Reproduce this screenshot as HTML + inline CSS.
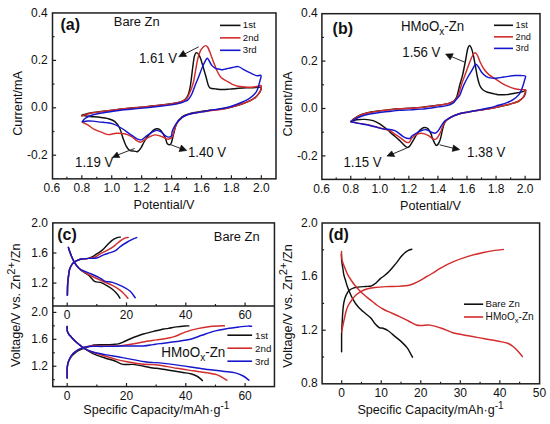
<!DOCTYPE html>
<html><head><meta charset="utf-8"><title>Figure</title>
<style>
html,body{margin:0;padding:0;background:#fff;}
body{width:550px;height:424px;overflow:hidden;}
svg{display:block;font-family:"Liberation Sans", sans-serif;}
</style></head>
<body>
<svg width="550" height="424" viewBox="0 0 550 424">
<rect x="0" y="0" width="550" height="424" fill="#fff"/>
<path d="M81.9 115.1 C83.5 114.72 87.15 113.53 91.5 112.8 C95.85 112.07 102.5 111.38 108 110.7 C113.5 110.02 119.17 109.27 124.5 108.7 C129.83 108.13 135.77 107.72 140 107.3 C144.23 106.88 146.6 106.55 149.9 106.2 C153.2 105.85 156.5 105.57 159.8 105.2 C163.1 104.83 166.95 104.38 169.7 104 C172.45 103.62 174.37 103.3 176.3 102.9 C178.23 102.5 179.92 102.12 181.3 101.6 C182.68 101.08 183.65 100.53 184.6 99.8 C185.55 99.07 186.3 98.33 187 97.2 C187.7 96.07 188.2 95.12 188.8 93 C189.4 90.88 189.95 88.75 190.6 84.5 C191.25 80.25 192.07 72.22 192.7 67.5 C193.33 62.78 193.8 58.67 194.4 56.2 C195 53.73 195.63 53.05 196.3 52.7 C196.97 52.35 197.7 53.17 198.4 54.1 C199.1 55.03 199.68 56.07 200.5 58.3 C201.32 60.53 202.35 64.3 203.3 67.5 C204.25 70.7 205.37 74.55 206.2 77.5 C207.03 80.45 207.6 83.43 208.3 85.2 C209 86.97 209.22 87.48 210.4 88.1 C211.58 88.72 213.38 88.67 215.4 88.9 C217.42 89.13 220.15 89.47 222.5 89.5 C224.85 89.53 227.15 89.27 229.5 89.1 C231.85 88.93 234.43 88.68 236.6 88.5 C238.77 88.32 240.13 88.13 242.5 88 C244.87 87.87 248.05 87.83 250.8 87.7 C253.55 87.57 257.3 87.27 259 87.2 C260.7 87.13 260.63 87 261 87.3 C261.37 87.6 261.28 88.38 261.2 89 C261.12 89.62 260.87 90.28 260.5 91 C260.13 91.72 259.8 92.28 259 93.3 C258.2 94.32 257.07 95.92 255.7 97.1 C254.33 98.28 253 99.3 250.8 100.4 C248.6 101.5 245.25 102.73 242.5 103.7 C239.75 104.67 237.05 105.45 234.3 106.2 C231.55 106.95 228.72 107.67 226 108.2 C223.28 108.73 220.67 109.05 218 109.4 C215.33 109.75 212.67 109.98 210 110.3 C207.33 110.62 204.25 111 202 111.3 C199.75 111.6 198.32 111.78 196.5 112.1 C194.68 112.42 192.92 112.73 191.1 113.2 C189.28 113.67 187.03 114.33 185.6 114.9 C184.17 115.47 183.4 115.97 182.5 116.6 C181.6 117.23 180.98 117.9 180.2 118.7 C179.42 119.5 178.5 120.35 177.8 121.4 C177.1 122.45 176.53 123.57 176 125 C175.47 126.43 175.07 128.23 174.6 130 C174.13 131.77 173.75 133.42 173.2 135.6 C172.65 137.78 171.88 141.57 171.3 143.1 C170.72 144.63 170.38 144.7 169.7 144.8 C169.02 144.9 167.88 144.72 167.2 143.7 C166.52 142.68 166.28 140.35 165.6 138.7 C164.92 137.05 164.07 135.32 163.1 133.8 C162.13 132.28 160.9 130.43 159.8 129.6 C158.7 128.77 157.6 128.67 156.5 128.8 C155.4 128.93 154.3 129.57 153.2 130.4 C152.1 131.23 151 132.55 149.9 133.8 C148.8 135.05 147.62 136.45 146.6 137.9 C145.58 139.35 144.73 140.85 143.8 142.5 C142.87 144.15 142.02 146.3 141 147.8 C139.98 149.3 138.8 150.95 137.7 151.5 C136.6 152.05 135.77 151.3 134.4 151.1 C133.03 150.9 130.87 151.12 129.5 150.3 C128.13 149.48 127.3 148.27 126.2 146.2 C125.1 144.13 124 140.93 122.9 137.9 C121.8 134.87 120.98 130.75 119.6 128 C118.22 125.25 116.53 122.97 114.6 121.4 C112.67 119.83 110.47 119.28 108 118.6 C105.53 117.92 102.78 117.65 99.8 117.3 C96.82 116.95 92.73 116.78 90.1 116.5 C87.47 116.22 85.38 115.82 84 115.6 C82.62 115.38 82.17 115.27 81.8 115.2" fill="none" stroke="#101010" stroke-width="1.45" stroke-linejoin="round" stroke-linecap="round"/>
<path d="M81.8 116 C83.42 115.5 87.13 113.87 91.5 113 C95.87 112.13 102.5 111.5 108 110.8 C113.5 110.1 119.17 109.37 124.5 108.8 C129.83 108.23 134.12 107.98 140 107.4 C145.88 106.82 154.85 105.85 159.8 105.3 C164.75 104.75 166.95 104.48 169.7 104.1 C172.45 103.72 174.37 103.4 176.3 103 C178.23 102.6 179.92 102.17 181.3 101.7 C182.68 101.23 183.57 100.9 184.6 100.2 C185.63 99.5 186.63 98.78 187.5 97.5 C188.37 96.22 189.08 94.17 189.8 92.5 C190.52 90.83 191.17 89.33 191.8 87.5 C192.43 85.67 192.97 84.35 193.6 81.5 C194.23 78.65 194.92 74.13 195.6 70.4 C196.28 66.67 196.88 62.4 197.7 59.1 C198.52 55.8 199.57 52.62 200.5 50.6 C201.43 48.58 202.47 47.83 203.3 47 C204.13 46.17 204.78 45.6 205.5 45.6 C206.22 45.6 206.78 45.7 207.6 47 C208.42 48.3 209.33 50.68 210.4 53.4 C211.47 56.12 212.82 60.23 214 63.3 C215.18 66.37 216.33 69.43 217.5 71.8 C218.67 74.17 219.5 75.97 221 77.5 C222.5 79.03 224.6 79.87 226.5 81 C228.4 82.13 230.48 83.42 232.4 84.3 C234.32 85.18 235.48 85.82 238 86.3 C240.52 86.78 244.55 87.13 247.5 87.2 C250.45 87.27 253.5 86.98 255.7 86.7 C257.9 86.42 259.77 85.42 260.7 85.5 C261.63 85.58 261.3 86.48 261.3 87.2 C261.3 87.92 261.08 88.8 260.7 89.8 C260.32 90.8 259.83 91.98 259 93.2 C258.17 94.42 257.07 95.9 255.7 97.1 C254.33 98.3 253 99.3 250.8 100.4 C248.6 101.5 245.25 102.73 242.5 103.7 C239.75 104.67 237.05 105.38 234.3 106.2 C231.55 107.02 228.72 108 226 108.6 C223.28 109.2 220.67 109.43 218 109.8 C215.33 110.17 212.67 110.45 210 110.8 C207.33 111.15 204.25 111.58 202 111.9 C199.75 112.22 198.32 112.38 196.5 112.7 C194.68 113.02 192.92 113.33 191.1 113.8 C189.28 114.27 187.03 114.93 185.6 115.5 C184.17 116.07 183.4 116.57 182.5 117.2 C181.6 117.83 180.98 118.5 180.2 119.3 C179.42 120.1 178.57 120.85 177.8 122 C177.03 123.15 176.23 124.7 175.6 126.2 C174.97 127.7 174.47 129.45 174 131 C173.53 132.55 173.23 134.35 172.8 135.5 C172.37 136.65 172.18 137.28 171.4 137.9 C170.62 138.52 169.2 139.2 168.1 139.2 C167 139.2 166.18 138.45 164.8 137.9 C163.42 137.35 161.45 136.4 159.8 135.9 C158.15 135.4 156.55 134.78 154.9 134.9 C153.25 135.02 151.55 135.83 149.9 136.6 C148.25 137.37 146.48 138.58 145 139.5 C143.52 140.42 142.22 141.82 141 142.1 C139.78 142.38 138.87 141.8 137.7 141.2 C136.53 140.6 135.1 139.32 134 138.5 C132.9 137.68 132.68 137.08 131.1 136.3 C129.52 135.52 126.97 134.3 124.5 133.8 C122.03 133.3 119.05 133.17 116.3 133.3 C113.55 133.43 110.48 134.8 108 134.6 C105.52 134.4 103.6 132.92 101.4 132.1 C99.2 131.28 97 130.85 94.8 129.7 C92.6 128.55 90.02 126.32 88.2 125.2 C86.38 124.08 84.87 123.53 83.9 123 C82.93 122.47 82.65 122.17 82.4 122" fill="none" stroke="#d22c2c" stroke-width="1.45" stroke-linejoin="round" stroke-linecap="round"/>
<path d="M82.2 121.8 C82.67 121.25 83.68 119.51 85 118.5 C86.32 117.49 87.6 116.61 90.1 115.72 C92.6 114.84 97.02 113.82 100 113.2 C102.98 112.58 103.92 112.57 108 112 C112.08 111.43 119.17 110.4 124.5 109.8 C129.83 109.2 134.12 108.98 140 108.4 C145.88 107.82 154.85 106.85 159.8 106.3 C164.75 105.75 166.95 105.48 169.7 105.1 C172.45 104.72 174.37 104.38 176.3 104 C178.23 103.62 179.92 103.22 181.3 102.8 C182.68 102.38 183.5 101.93 184.6 101.45 C185.7 100.97 186.93 100.73 187.9 99.93 C188.87 99.12 189.63 97.84 190.4 96.6 C191.17 95.36 191.75 94.28 192.5 92.5 C193.25 90.72 193.92 88.4 194.9 85.9 C195.88 83.4 197.23 80.43 198.4 77.5 C199.57 74.57 200.83 70.9 201.9 68.3 C202.97 65.7 203.92 63.57 204.8 61.9 C205.68 60.23 206.5 58.53 207.2 58.3 C207.9 58.07 208.23 59.32 209 60.5 C209.77 61.68 210.73 64.1 211.8 65.4 C212.87 66.7 214.1 67.67 215.4 68.3 C216.7 68.93 218.42 68.97 219.6 69.2 C220.78 69.43 221.32 69.78 222.5 69.7 C223.68 69.62 225.05 69.07 226.7 68.7 C228.35 68.33 230.45 67.85 232.4 67.5 C234.35 67.15 236.43 66.2 238.4 66.6 C240.37 67 242.13 68.8 244.2 69.9 C246.27 71 248.75 72.25 250.8 73.2 C252.85 74.15 254.8 75.2 256.5 75.6 C258.2 76 260.45 74.63 261 75.6 C261.55 76.57 260.4 79.05 259.8 81.4 C259.2 83.75 258.35 87.5 257.4 89.7 C256.45 91.9 255.48 93.1 254.1 94.6 C252.72 96.1 251.03 97.47 249.1 98.7 C247.17 99.93 244.97 100.9 242.5 102 C240.03 103.1 237.05 104.33 234.3 105.3 C231.55 106.27 228.72 107.15 226 107.8 C223.28 108.45 220.67 108.8 218 109.2 C215.33 109.6 212.67 109.75 210 110.2 C207.33 110.65 204.25 111.48 202 111.9 C199.75 112.32 198.32 112.38 196.5 112.7 C194.68 113.02 192.92 113.33 191.1 113.8 C189.28 114.27 187.03 114.93 185.6 115.5 C184.17 116.07 183.4 116.57 182.5 117.2 C181.6 117.83 180.97 118.58 180.2 119.3 C179.43 120.02 178.75 120.48 177.9 121.5 C177.05 122.52 176.03 123.83 175.1 125.4 C174.17 126.97 172.92 129.15 172.3 130.9 C171.68 132.65 172.1 134.87 171.4 135.9 C170.7 136.93 169.2 137.18 168.1 137.1 C167 137.02 165.9 136.23 164.8 135.4 C163.7 134.57 162.88 132.93 161.5 132.1 C160.12 131.27 158.15 130.32 156.5 130.4 C154.85 130.48 153.25 131.68 151.6 132.6 C149.95 133.52 147.98 134.88 146.6 135.9 C145.22 136.92 144.23 138.03 143.3 138.7 C142.37 139.37 141.93 139.82 141 139.9 C140.07 139.98 138.95 139.77 137.7 139.2 C136.45 138.63 134.87 137.4 133.5 136.5 C132.13 135.6 131.55 135.22 129.5 133.8 C127.45 132.38 123.95 129.65 121.2 128 C118.45 126.35 115.53 124.8 113 123.9 C110.47 123 108.17 122.9 106 122.6 C103.83 122.3 102.17 122.35 100 122.1 C97.83 121.85 95.12 121.28 93 121.1 C90.88 120.92 88.88 120.92 87.3 121 C85.72 121.08 84.35 121.47 83.5 121.6 C82.65 121.73 82.42 121.77 82.2 121.8" fill="none" stroke="#1616cc" stroke-width="1.45" stroke-linejoin="round" stroke-linecap="round"/>
<path d="M350.9 121.4 C351.57 120.85 353.13 119.25 354.9 118.1 C356.67 116.95 359.02 115.47 361.5 114.5 C363.98 113.53 367.05 112.88 369.8 112.3 C372.55 111.72 374.98 111.4 378 111 C381.02 110.6 384.32 110.28 387.9 109.9 C391.48 109.52 395.82 108.98 399.5 108.7 C403.18 108.42 406.33 108.42 410 108.2 C413.67 107.98 416.83 107.9 421.5 107.4 C426.17 106.9 433.6 105.83 438 105.2 C442.4 104.57 445.42 104.2 447.9 103.6 C450.38 103 451.65 102.35 452.9 101.6 C454.15 100.85 454.68 100.12 455.4 99.1 C456.12 98.08 456.45 97.93 457.2 95.5 C457.95 93.07 458.98 87.98 459.9 84.5 C460.82 81.02 461.77 78.6 462.7 74.6 C463.63 70.6 464.68 64.73 465.5 60.5 C466.32 56.27 466.97 51.68 467.6 49.2 C468.23 46.72 468.7 45.85 469.3 45.6 C469.9 45.35 470.53 46.17 471.2 47.7 C471.87 49.23 472.6 51.73 473.3 54.8 C474 57.87 474.7 62.32 475.4 66.1 C476.1 69.88 476.78 74.32 477.5 77.5 C478.22 80.68 478.87 83.2 479.7 85.2 C480.53 87.2 481.2 88.32 482.5 89.5 C483.8 90.68 485.5 91.57 487.5 92.3 C489.5 93.03 492.7 93.5 494.5 93.9 C496.3 94.3 496.3 94.58 498.3 94.7 C500.3 94.82 503.75 94.83 506.5 94.6 C509.25 94.37 512.05 93.8 514.8 93.3 C517.55 92.8 521.22 92.07 523 91.6 C524.78 91.13 525.07 90.35 525.5 90.5 C525.93 90.65 525.68 91.83 525.6 92.5 C525.52 93.17 525.43 93.65 525 94.5 C524.57 95.35 524.15 96.43 523 97.6 C521.85 98.77 520.3 100.4 518.1 101.5 C515.9 102.6 512.83 103.37 509.8 104.2 C506.77 105.03 503.2 105.77 499.9 106.5 C496.6 107.23 494.15 107.9 490 108.6 C485.85 109.3 478.67 110.15 475 110.7 C471.33 111.25 470.53 111.43 468 111.9 C465.47 112.37 462.07 112.92 459.8 113.5 C457.53 114.08 455.78 114.85 454.4 115.4 C453.02 115.95 452.42 116.3 451.5 116.8 C450.58 117.3 449.82 117.73 448.9 118.4 C447.98 119.07 446.82 119.82 446 120.8 C445.18 121.78 444.63 122.62 444 124.3 C443.37 125.98 442.82 128.38 442.2 130.9 C441.58 133.42 440.92 137.3 440.3 139.4 C439.68 141.5 439.13 142.48 438.5 143.5 C437.87 144.52 437.15 145.57 436.5 145.5 C435.85 145.43 435.38 144.6 434.6 143.1 C433.82 141.6 432.33 137.92 431.8 136.5 C431.27 135.08 432.02 135.88 431.4 134.6 C430.78 133.32 429.2 129.98 428.1 128.8 C427 127.62 425.9 127.5 424.8 127.5 C423.7 127.5 422.6 128.03 421.5 128.8 C420.4 129.57 419.43 130.43 418.2 132.1 C416.97 133.77 415.43 136.58 414.1 138.8 C412.77 141.02 411.27 143.95 410.2 145.4 C409.13 146.85 408.67 147.5 407.7 147.5 C406.73 147.5 405.77 146.58 404.4 145.4 C403.03 144.22 401.42 142.2 399.5 140.4 C397.58 138.6 395.1 136.53 392.9 134.6 C390.7 132.67 388.5 130.58 386.3 128.8 C384.1 127.02 381.9 125.27 379.7 123.9 C377.5 122.53 375.58 121.35 373.1 120.6 C370.62 119.85 367.55 119.53 364.8 119.4 C362.05 119.27 358.92 119.47 356.6 119.8 C354.28 120.13 351.85 121.13 350.9 121.4" fill="none" stroke="#101010" stroke-width="1.45" stroke-linejoin="round" stroke-linecap="round"/>
<path d="M350.9 121.7 C351.57 121.13 353.13 119.48 354.9 118.3 C356.67 117.12 359.02 115.58 361.5 114.6 C363.98 113.62 367.05 112.98 369.8 112.4 C372.55 111.82 374.98 111.5 378 111.1 C381.02 110.7 384.32 110.38 387.9 110 C391.48 109.62 395.82 109.08 399.5 108.8 C403.18 108.52 406.33 108.52 410 108.3 C413.67 108.08 416.83 108 421.5 107.5 C426.17 107 433.6 105.93 438 105.3 C442.4 104.67 445.42 104.28 447.9 103.7 C450.38 103.12 451.62 102.53 452.9 101.8 C454.18 101.07 454.68 100.43 455.6 99.3 C456.52 98.17 457.33 97.7 458.4 95 C459.47 92.3 460.7 86.97 462 83.1 C463.3 79.23 464.9 75.33 466.2 71.8 C467.5 68.27 468.73 64.62 469.8 61.9 C470.87 59.18 471.73 57.03 472.6 55.5 C473.47 53.97 474.18 52.7 475 52.7 C475.82 52.7 476.6 53.85 477.5 55.5 C478.4 57.15 479.33 60.35 480.4 62.6 C481.47 64.85 482.48 67 483.9 69 C485.32 71 487.13 73.03 488.9 74.6 C490.67 76.17 492.38 76.98 494.5 78.4 C496.62 79.82 499.32 81.77 501.6 83.1 C503.88 84.43 506 85.45 508.2 86.4 C510.4 87.35 512.6 88.25 514.8 88.8 C517 89.35 519.62 89.55 521.4 89.7 C523.18 89.85 524.83 89.4 525.5 89.7 C526.17 90 525.48 90.92 525.4 91.5 C525.32 92.08 525.4 92.18 525 93.2 C524.6 94.22 524.15 96.22 523 97.6 C521.85 98.98 520.3 100.4 518.1 101.5 C515.9 102.6 512.83 103.37 509.8 104.2 C506.77 105.03 503.2 105.77 499.9 106.5 C496.6 107.23 494.15 107.87 490 108.6 C485.85 109.33 478.67 110.3 475 110.9 C471.33 111.5 470.53 111.72 468 112.2 C465.47 112.68 462.07 113.22 459.8 113.8 C457.53 114.38 455.7 115.18 454.4 115.7 C453.1 116.22 452.92 116.42 452 116.9 C451.08 117.38 449.98 117.88 448.9 118.6 C447.82 119.32 446.4 120.22 445.5 121.2 C444.6 122.18 444.05 123.43 443.5 124.5 C442.95 125.57 442.62 126.52 442.2 127.6 C441.78 128.68 441.48 129.83 441 131 C440.52 132.17 439.97 133.4 439.3 134.6 C438.63 135.8 437.78 137.4 437 138.2 C436.22 139 435.4 139.35 434.6 139.4 C433.8 139.45 433.28 139.17 432.2 138.5 C431.12 137.83 429.88 136.27 428.1 135.4 C426.32 134.53 423.42 133.43 421.5 133.3 C419.58 133.17 418.25 133.77 416.6 134.6 C414.95 135.43 412.8 137.05 411.6 138.3 C410.4 139.55 410.32 141.47 409.4 142.1 C408.48 142.73 407.48 142.73 406.1 142.1 C404.72 141.47 403.03 139.68 401.1 138.3 C399.17 136.92 396.42 135.1 394.5 133.8 C392.58 132.5 391.52 131.33 389.6 130.5 C387.68 129.67 385.48 129.48 383 128.8 C380.52 128.12 377.45 127.13 374.7 126.4 C371.95 125.67 369.25 124.95 366.5 124.4 C363.75 123.85 360.8 123.55 358.2 123.1 C355.6 122.65 352.12 121.93 350.9 121.7" fill="none" stroke="#d22c2c" stroke-width="1.45" stroke-linejoin="round" stroke-linecap="round"/>
<path d="M350.9 121.7 C351.57 121.26 353.13 119.98 354.9 119.06 C356.67 118.14 359.02 117.04 361.5 116.2 C363.98 115.36 367.05 114.58 369.8 114 C372.55 113.42 374.98 113.1 378 112.7 C381.02 112.3 384.32 111.98 387.9 111.6 C391.48 111.22 395.82 110.68 399.5 110.4 C403.18 110.12 406.33 110.12 410 109.9 C413.67 109.68 416.83 109.6 421.5 109.1 C426.17 108.6 433.6 107.52 438 106.9 C442.4 106.28 445.42 106.03 447.9 105.4 C450.38 104.77 451.58 104.03 452.9 103.14 C454.22 102.25 454.95 101.02 455.8 100.08 C456.65 99.14 457.32 98.35 458 97.5 C458.68 96.65 459 96.93 459.9 95 C460.8 93.07 462.12 88.82 463.4 85.9 C464.68 82.98 466.18 80.08 467.6 77.5 C469.02 74.92 470.6 72.58 471.9 70.4 C473.2 68.22 474.33 65 475.4 64.4 C476.47 63.8 477.23 65.45 478.3 66.8 C479.37 68.15 480.52 70.92 481.8 72.5 C483.08 74.08 484.58 75.4 486 76.3 C487.42 77.2 488.65 77.58 490.3 77.9 C491.95 78.22 494.02 78.28 495.9 78.2 C497.78 78.12 499.83 77.67 501.6 77.4 C503.37 77.13 504.3 76.92 506.5 76.6 C508.7 76.28 512.32 75.67 514.8 75.5 C517.28 75.33 519.62 75.5 521.4 75.6 C523.18 75.7 524.95 75.4 525.5 76.1 C526.05 76.8 525.25 77.82 524.7 79.8 C524.15 81.78 523.17 85.53 522.2 88 C521.23 90.47 520.42 92.67 518.9 94.6 C517.38 96.53 515.17 98.22 513.1 99.6 C511.03 100.98 508.97 101.95 506.5 102.9 C504.03 103.85 501.05 104.48 498.3 105.3 C495.55 106.12 493.88 106.9 490 107.8 C486.12 108.7 478.67 109.98 475 110.7 C471.33 111.42 470.53 111.6 468 112.1 C465.47 112.6 462.07 113.12 459.8 113.7 C457.53 114.28 455.7 115.1 454.4 115.6 C453.1 116.1 452.82 116.3 452 116.7 C451.18 117.1 450.35 117.53 449.5 118 C448.65 118.47 447.73 118.95 446.9 119.5 C446.07 120.05 445.28 120.5 444.5 121.3 C443.72 122.1 442.95 123.18 442.2 124.3 C441.45 125.42 440.7 126.88 440 128 C439.3 129.12 438.82 130.13 438 131 C437.18 131.87 436.2 133.02 435.1 133.2 C434 133.38 432.83 132.68 431.4 132.1 C429.97 131.52 428.15 129.97 426.5 129.7 C424.85 129.43 423.15 129.95 421.5 130.5 C419.85 131.05 418.25 132.03 416.6 133 C414.95 133.97 412.67 135.42 411.6 136.3 C410.53 137.18 410.98 137.97 410.2 138.3 C409.42 138.63 408.13 138.63 406.9 138.3 C405.67 137.97 404.58 137.47 402.8 136.3 C401.02 135.13 398.13 132.4 396.2 131.3 C394.27 130.2 393.4 130.1 391.2 129.7 C389 129.3 385.75 129.38 383 128.9 C380.25 128.42 377.45 127.48 374.7 126.8 C371.95 126.12 369.25 125.37 366.5 124.8 C363.75 124.23 360.8 123.92 358.2 123.4 C355.6 122.88 352.12 121.98 350.9 121.7" fill="none" stroke="#1616cc" stroke-width="1.45" stroke-linejoin="round" stroke-linecap="round"/>
<path d="M67.4 295.3 C67.43 293.65 67.48 288.03 67.6 285.4 C67.72 282.77 67.8 282.03 68.1 279.5 C68.4 276.97 68.87 272.53 69.4 270.2 C69.93 267.87 70.5 266.83 71.3 265.5 C72.1 264.17 72.93 263.15 74.2 262.2 C75.47 261.25 77.33 260.35 78.9 259.8 C80.47 259.25 82.03 259.13 83.6 258.9 C85.17 258.67 86.8 258.78 88.3 258.4 C89.8 258.02 91.18 257.35 92.6 256.6 C94.02 255.85 95.25 254.93 96.8 253.9 C98.35 252.87 100.2 251.83 101.9 250.4 C103.6 248.97 105.3 246.98 107 245.3 C108.7 243.62 110.4 241.58 112.1 240.3 C113.8 239.02 115.85 238.13 117.2 237.6 C118.55 237.07 119.7 237.18 120.2 237.1" fill="none" stroke="#101010" stroke-width="1.45" stroke-linejoin="round" stroke-linecap="round"/>
<path d="M68.4 247.4 C68.6 248.03 69.17 249.93 69.6 251.2 C70.03 252.47 70.5 253.73 71 255 C71.5 256.27 72.07 257.6 72.6 258.8 C73.13 260 73.57 261.12 74.2 262.2 C74.83 263.28 75.62 264.3 76.4 265.3 C77.18 266.3 77.85 267.17 78.9 268.2 C79.95 269.23 81.08 270.35 82.7 271.5 C84.32 272.65 86.62 273.45 88.6 275.1 C90.58 276.75 92.62 280.18 94.6 281.4 C96.58 282.62 98.52 281.73 100.5 282.4 C102.48 283.07 104.52 284.25 106.5 285.4 C108.48 286.55 110.58 287.82 112.4 289.3 C114.22 290.78 116.15 292.82 117.4 294.3 C118.65 295.78 119.48 297.55 119.9 298.2" fill="none" stroke="#101010" stroke-width="1.45" stroke-linejoin="round" stroke-linecap="round"/>
<path d="M67.4 295.3 C67.43 293.65 67.48 288.03 67.6 285.4 C67.72 282.77 67.8 282.03 68.1 279.5 C68.4 276.97 68.87 272.53 69.4 270.2 C69.93 267.87 70.5 266.83 71.3 265.5 C72.1 264.17 72.93 263.15 74.2 262.2 C75.47 261.25 77.33 260.35 78.9 259.8 C80.47 259.25 82.03 259.13 83.6 258.9 C85.17 258.67 86.47 258.68 88.3 258.4 C90.13 258.12 92.57 257.98 94.6 257.2 C96.63 256.42 98.2 254.95 100.5 253.7 C102.8 252.45 106.08 251.02 108.4 249.7 C110.72 248.38 112.42 247.28 114.4 245.8 C116.38 244.32 118.48 242.13 120.3 240.8 C122.12 239.47 123.98 238.37 125.3 237.8 C126.62 237.23 127.72 237.47 128.2 237.4" fill="none" stroke="#d22c2c" stroke-width="1.45" stroke-linejoin="round" stroke-linecap="round"/>
<path d="M68.4 247.4 C68.6 248.03 69.17 249.93 69.6 251.2 C70.03 252.47 70.5 253.73 71 255 C71.5 256.27 72.07 257.6 72.6 258.8 C73.13 260 73.57 261.12 74.2 262.2 C74.83 263.28 75.62 264.3 76.4 265.3 C77.18 266.3 77.85 267.23 78.9 268.2 C79.95 269.17 80.42 269.72 82.7 271.1 C84.98 272.48 89.3 274.85 92.6 276.5 C95.9 278.15 99.2 279.52 102.5 281 C105.8 282.48 109.43 283.85 112.4 285.4 C115.37 286.95 118.15 288.65 120.3 290.3 C122.45 291.95 124.03 293.98 125.3 295.3 C126.57 296.62 127.47 297.72 127.9 298.2" fill="none" stroke="#d22c2c" stroke-width="1.45" stroke-linejoin="round" stroke-linecap="round"/>
<path d="M67.4 295.3 C67.43 293.65 67.48 288.03 67.6 285.4 C67.72 282.77 67.8 282.03 68.1 279.5 C68.4 276.97 68.87 272.53 69.4 270.2 C69.93 267.87 70.5 266.83 71.3 265.5 C72.1 264.17 72.93 263.15 74.2 262.2 C75.47 261.25 77.33 260.35 78.9 259.8 C80.47 259.25 82.03 259.13 83.6 258.9 C85.17 258.67 86.1 258.55 88.3 258.4 C90.5 258.25 94.25 258.6 96.8 258 C99.35 257.4 101.33 255.7 103.6 254.8 C105.87 253.9 108.42 253.3 110.4 252.6 C112.38 251.9 113.8 251.65 115.5 250.6 C117.2 249.55 118.62 247.73 120.6 246.3 C122.58 244.87 125.43 243.15 127.4 242 C129.37 240.85 130.85 240.13 132.4 239.4 C133.95 238.67 135.98 237.9 136.7 237.6" fill="none" stroke="#1616cc" stroke-width="1.45" stroke-linejoin="round" stroke-linecap="round"/>
<path d="M68.4 247.4 C68.6 248.03 69.17 249.93 69.6 251.2 C70.03 252.47 70.5 253.73 71 255 C71.5 256.27 72.07 257.6 72.6 258.8 C73.13 260 73.57 261.12 74.2 262.2 C74.83 263.28 75.62 264.3 76.4 265.3 C77.18 266.3 77.85 267.33 78.9 268.2 C79.95 269.07 80.42 269.45 82.7 270.5 C84.98 271.55 89.63 273.18 92.6 274.5 C95.57 275.82 98.35 277.25 100.5 278.4 C102.65 279.55 103.52 280.73 105.5 281.4 C107.48 282.07 109.6 281.57 112.4 282.4 C115.2 283.23 119.33 284.92 122.3 286.4 C125.27 287.88 128.05 289.4 130.2 291.3 C132.35 293.2 134.37 296.72 135.2 297.8" fill="none" stroke="#1616cc" stroke-width="1.45" stroke-linejoin="round" stroke-linecap="round"/>
<path d="M67.2 378 C67.2 376.37 67.07 370.68 67.2 368.2 C67.33 365.72 67.67 364.47 68 363.12 C68.33 361.78 68.73 361.07 69.2 360.12 C69.67 359.18 70.22 358.28 70.8 357.43 C71.38 356.57 71.92 355.8 72.7 355 C73.48 354.2 74.55 353.32 75.5 352.6 C76.45 351.88 77.35 351.28 78.4 350.7 C79.45 350.12 80.62 349.57 81.8 349.1 C82.98 348.63 83.63 348.55 85.5 347.9 C87.37 347.25 89.75 345.72 93 345.2 C96.25 344.68 101.67 344.93 105 344.8 C108.33 344.67 110.77 344.55 113 344.4 C115.23 344.25 116.8 344.25 118.4 343.9 C120 343.55 120.48 343.2 122.6 342.3 C124.72 341.4 127.8 339.83 131.1 338.5 C134.4 337.17 138.63 335.48 142.4 334.3 C146.17 333.12 150.17 332.28 153.7 331.4 C157.23 330.52 161.15 329.5 163.6 329 C166.05 328.5 166.22 328.75 168.4 328.4 C170.58 328.05 173.92 327.3 176.7 326.9 C179.48 326.5 183.07 326.17 185.1 326 C187.13 325.83 188.27 325.92 188.9 325.9" fill="none" stroke="#101010" stroke-width="1.45" stroke-linejoin="round" stroke-linecap="round"/>
<path d="M67.1 326.4 C67.15 327.22 67.08 329.95 67.4 331.3 C67.72 332.65 68.35 333.55 69 334.5 C69.65 335.45 70.47 336.08 71.3 337 C72.13 337.92 73.05 339.05 74 340 C74.95 340.95 75.92 341.77 77 342.7 C78.08 343.63 79.32 344.67 80.5 345.6 C81.68 346.53 82.02 346.97 84.1 348.3 C86.18 349.63 89.52 351.98 93 353.6 C96.48 355.22 101.33 356.77 105 358 C108.67 359.23 112 359.93 115 361 C118 362.07 120 363.83 123 364.4 C126 364.97 129.67 364.13 133 364.4 C136.33 364.67 139.67 365.4 143 366 C146.33 366.6 150.17 367.55 153 368 C155.83 368.45 156.75 368.23 160 368.7 C163.25 369.17 168.67 370.17 172.5 370.8 C176.33 371.43 179.85 371.97 183 372.5 C186.15 373.03 189.13 373.42 191.4 374 C193.67 374.58 195.22 375.32 196.6 376 C197.98 376.68 198.73 377.33 199.7 378.1 C200.67 378.87 201.95 380.18 202.4 380.6" fill="none" stroke="#101010" stroke-width="1.45" stroke-linejoin="round" stroke-linecap="round"/>
<path d="M67.2 378 C67.2 376.37 67.07 370.7 67.2 368.2 C67.33 365.7 67.67 364.42 68 363 C68.33 361.58 68.73 360.77 69.2 359.7 C69.67 358.63 70.22 357.55 70.8 356.6 C71.38 355.65 71.92 354.83 72.7 354 C73.48 353.17 74.55 352.32 75.5 351.6 C76.45 350.88 77.35 350.28 78.4 349.7 C79.45 349.12 80.62 348.57 81.8 348.1 C82.98 347.63 83.63 347.32 85.5 346.9 C87.37 346.48 90.08 345.77 93 345.6 C95.92 345.43 98.3 345.9 103 345.9 C107.7 345.9 115.8 346 121.2 345.6 C126.6 345.2 131.15 344.22 135.4 343.5 C139.65 342.78 143.17 341.9 146.7 341.3 C150.23 340.7 152.72 340.48 156.6 339.9 C160.48 339.32 166.77 338.45 170 337.8 C173.23 337.15 173.48 336.95 176 336 C178.52 335.05 181.5 333.33 185.1 332.1 C188.7 330.87 193.42 329.53 197.6 328.6 C201.78 327.67 206.02 326.98 210.2 326.5 C214.38 326.02 220.33 325.8 222.7 325.7 C225.07 325.6 224.12 325.87 224.4 325.9" fill="none" stroke="#d22c2c" stroke-width="1.45" stroke-linejoin="round" stroke-linecap="round"/>
<path d="M67.1 326.4 C67.15 327.22 67.08 329.95 67.4 331.3 C67.72 332.65 68.35 333.55 69 334.5 C69.65 335.45 70.47 336.08 71.3 337 C72.13 337.92 73.05 339.05 74 340 C74.95 340.95 75.92 341.77 77 342.7 C78.08 343.63 79.32 344.67 80.5 345.6 C81.68 346.53 82.02 347.17 84.1 348.3 C86.18 349.43 89.52 351.12 93 352.4 C96.48 353.68 101 354.8 105 356 C109 357.2 113 358.6 117 359.6 C121 360.6 125 361.27 129 362 C133 362.73 137 363.57 141 364 C145 364.43 149.83 364.4 153 364.6 C156.17 364.8 156.05 364.58 160 365.2 C163.95 365.82 171.12 367.37 176.7 368.3 C182.28 369.23 188.27 370.03 193.5 370.8 C198.73 371.57 204.27 372.27 208.1 372.9 C211.93 373.53 214.23 373.9 216.5 374.6 C218.77 375.3 219.97 376.17 221.7 377.1 C223.43 378.03 226.03 379.68 226.9 380.2" fill="none" stroke="#d22c2c" stroke-width="1.45" stroke-linejoin="round" stroke-linecap="round"/>
<path d="M67.2 378 C67.2 376.37 67.07 370.7 67.2 368.2 C67.33 365.7 67.67 364.42 68 363 C68.33 361.58 68.73 360.77 69.2 359.7 C69.67 358.63 70.22 357.55 70.8 356.6 C71.38 355.65 71.92 354.83 72.7 354 C73.48 353.17 74.55 352.32 75.5 351.6 C76.45 350.88 77.35 350.28 78.4 349.7 C79.45 349.12 80.62 348.57 81.8 348.1 C82.98 347.63 83.63 347.22 85.5 346.9 C87.37 346.58 90.08 346.28 93 346.2 C95.92 346.12 98 346.43 103 346.4 C108 346.37 116.33 346.07 123 346 C129.67 345.93 138 346.23 143 346 C148 345.77 150.17 345 153 344.6 C155.83 344.2 156.05 344.12 160 343.6 C163.95 343.08 171.47 342.27 176.7 341.5 C181.93 340.73 187.22 340.03 191.4 339 C195.58 337.97 197.97 336.62 201.8 335.3 C205.63 333.98 210.22 332.22 214.4 331.1 C218.58 329.98 222.73 329.3 226.9 328.6 C231.07 327.9 235.92 327.32 239.4 326.9 C242.88 326.48 245.77 326.2 247.8 326.1 C249.83 326 250.97 326.27 251.6 326.3" fill="none" stroke="#1616cc" stroke-width="1.45" stroke-linejoin="round" stroke-linecap="round"/>
<path d="M67.1 326.4 C67.15 327.22 67.08 329.95 67.4 331.3 C67.72 332.65 68.35 333.55 69 334.5 C69.65 335.45 70.47 336.08 71.3 337 C72.13 337.92 73.05 339.05 74 340 C74.95 340.95 75.92 341.77 77 342.7 C78.08 343.63 79.32 344.67 80.5 345.6 C81.68 346.53 82.02 347.23 84.1 348.3 C86.18 349.37 89.52 350.95 93 352 C96.48 353.05 100.67 353.77 105 354.6 C109.33 355.43 114.33 356.17 119 357 C123.67 357.83 128.67 358.8 133 359.6 C137.33 360.4 141.67 361.3 145 361.8 C148.33 362.3 150.5 362.42 153 362.6 C155.5 362.78 155.35 362.4 160 362.9 C164.65 363.4 173.93 364.63 180.9 365.6 C187.87 366.57 194.83 367.77 201.8 368.7 C208.77 369.63 217.12 370.5 222.7 371.2 C228.28 371.9 231.88 372.1 235.3 372.9 C238.72 373.7 240.93 374.78 243.2 376 C245.47 377.22 247.95 379.5 248.9 380.2" fill="none" stroke="#1616cc" stroke-width="1.45" stroke-linejoin="round" stroke-linecap="round"/>
<path d="M341.4 254 C341.45 255.17 341.47 258.67 341.7 261 C341.93 263.33 342.45 265.72 342.8 268 C343.15 270.28 343.37 272.7 343.8 274.7 C344.23 276.7 344.87 278.2 345.4 280 C345.93 281.8 346.37 283.62 347 285.5 C347.63 287.38 348.45 289.47 349.2 291.3 C349.95 293.13 350.72 294.92 351.5 296.5 C352.28 298.08 353.07 299.42 353.9 300.8 C354.73 302.18 355.57 303.55 356.5 304.8 C357.43 306.05 358.42 307.18 359.5 308.3 C360.58 309.42 361.9 310.55 363 311.5 C364.1 312.45 364.8 312.92 366.1 314 C367.4 315.08 369.38 316.47 370.8 318 C372.22 319.53 373.2 321.6 374.6 323.2 C376 324.8 377.8 326.75 379.2 327.6 C380.6 328.45 381.45 327.73 383 328.3 C384.55 328.87 386.47 329.62 388.5 331 C390.53 332.38 392.98 334.75 395.2 336.6 C397.42 338.45 399.77 340.18 401.8 342.1 C403.83 344.02 405.98 346.25 407.4 348.1 C408.82 349.95 409.45 351.68 410.3 353.2 C411.15 354.72 412.13 356.53 412.5 357.2" fill="none" stroke="#101010" stroke-width="1.45" stroke-linejoin="round" stroke-linecap="round"/>
<path d="M341.6 351.7 C341.6 349.75 341.58 343.3 341.6 340 C341.62 336.7 341.48 336.87 341.7 331.9 C341.92 326.93 342.52 315.18 342.9 310.2 C343.28 305.22 343.58 304.2 344 302 C344.42 299.8 344.87 298.47 345.4 297 C345.93 295.53 346.57 294.3 347.2 293.2 C347.83 292.1 348.08 291.28 349.2 290.4 C350.32 289.52 352.43 288.45 353.9 287.9 C355.37 287.35 356.43 287.32 358 287.1 C359.57 286.88 361.63 286.72 363.3 286.6 C364.97 286.48 366.63 286.53 368 286.4 C369.37 286.27 370.17 286.37 371.5 285.8 C372.83 285.23 374.57 284.15 376 283 C377.43 281.85 378.68 280.15 380.1 278.9 C381.52 277.65 383.05 276.7 384.5 275.5 C385.95 274.3 387.38 273.12 388.8 271.7 C390.22 270.28 391.57 268.68 393 267 C394.43 265.32 396.07 263.3 397.4 261.6 C398.73 259.9 399.8 258.23 401 256.8 C402.2 255.37 403.43 254.03 404.6 253 C405.77 251.97 406.8 251.22 408 250.6 C409.2 249.98 411.17 249.52 411.8 249.3" fill="none" stroke="#101010" stroke-width="1.45" stroke-linejoin="round" stroke-linecap="round"/>
<path d="M341.5 251.4 C341.52 252.17 341.52 254.57 341.6 256 C341.68 257.43 341.68 258.58 342 260 C342.32 261.42 342.92 262.92 343.5 264.5 C344.08 266.08 344.8 267.8 345.5 269.5 C346.2 271.2 346.78 272.95 347.7 274.7 C348.62 276.45 349.78 278.2 351 280 C352.22 281.8 353.58 283.77 355 285.5 C356.42 287.23 358 288.85 359.5 290.4 C361 291.95 362.42 293.38 364 294.8 C365.58 296.22 367.17 297.43 369 298.9 C370.83 300.37 373.6 302.5 375 303.6 C376.4 304.7 376.07 304.6 377.4 305.5 C378.73 306.4 381.15 307.97 383 309 C384.85 310.03 385.73 310.43 388.5 311.7 C391.27 312.97 396.27 315.05 399.6 316.6 C402.93 318.15 405.72 319.6 408.5 321 C411.28 322.4 414.08 324.25 416.3 325 C418.52 325.75 419.52 325.48 421.8 325.5 C424.08 325.52 426.72 324.65 430 325.1 C433.28 325.55 437.68 326.92 441.5 328.2 C445.32 329.48 448.45 331.53 452.9 332.8 C457.35 334.07 463.1 334.85 468.2 335.8 C473.3 336.75 478.4 337.6 483.5 338.5 C488.6 339.4 494.67 340.37 498.8 341.2 C502.93 342.03 505.77 342.48 508.3 343.5 C510.83 344.52 512.28 345.9 514 347.3 C515.72 348.7 517.2 350.37 518.6 351.9 C520 353.43 521.77 355.73 522.4 356.5" fill="none" stroke="#d22c2c" stroke-width="1.45" stroke-linejoin="round" stroke-linecap="round"/>
<path d="M341.6 331.9 C341.83 330.75 342.52 327.32 343 325 C343.48 322.68 343.95 320.42 344.5 318 C345.05 315.58 345.63 312.67 346.3 310.5 C346.97 308.33 347.55 306.78 348.5 305 C349.45 303.22 350.83 301.38 352 299.8 C353.17 298.22 354.25 296.75 355.5 295.5 C356.75 294.25 357.75 293.33 359.5 292.3 C361.25 291.27 363.48 290.1 366 289.3 C368.52 288.5 371.27 287.95 374.6 287.5 C377.93 287.05 382.1 286.78 386 286.6 C389.9 286.42 394 286.67 398 286.4 C402 286.13 406.67 285.8 410 285 C413.33 284.2 415.33 282.93 418 281.6 C420.67 280.27 423.67 278.35 426 277 C428.33 275.65 429.42 275.07 432 273.5 C434.58 271.93 438.02 269.55 441.5 267.6 C444.98 265.65 448.45 263.67 452.9 261.8 C457.35 259.93 463.1 257.95 468.2 256.4 C473.3 254.85 479.05 253.5 483.5 252.5 C487.95 251.5 491.6 250.9 494.9 250.4 C498.2 249.9 501.9 249.65 503.3 249.5" fill="none" stroke="#d22c2c" stroke-width="1.45" stroke-linejoin="round" stroke-linecap="round"/>
<rect x="52.5" y="12.95" width="223.5" height="165.9" fill="none" stroke="#1e1e1e" stroke-width="1.5"/>
<rect x="321.9" y="13.7" width="218.1" height="165.7" fill="none" stroke="#1e1e1e" stroke-width="1.5"/>
<rect x="52.8" y="222.9" width="221.65" height="163.7" fill="none" stroke="#1e1e1e" stroke-width="1.5"/>
<line x1="52.8" y1="306" x2="274.45" y2="306" stroke="#1e1e1e" stroke-width="1.5"/>
<rect x="322.1" y="223" width="217.5" height="160.8" fill="none" stroke="#1e1e1e" stroke-width="1.5"/>
<text x="51.9" y="192.45" font-size="12" text-anchor="middle" font-weight="normal" fill="#111" >0.6</text>
<line x1="81.82" y1="178.85" x2="81.82" y2="175.25" stroke="#1e1e1e" stroke-width="1.2"/>
<text x="81.82" y="192.45" font-size="12" text-anchor="middle" font-weight="normal" fill="#111" >0.8</text>
<line x1="111.74" y1="178.85" x2="111.74" y2="175.25" stroke="#1e1e1e" stroke-width="1.2"/>
<text x="111.74" y="192.45" font-size="12" text-anchor="middle" font-weight="normal" fill="#111" >1.0</text>
<line x1="141.66" y1="178.85" x2="141.66" y2="175.25" stroke="#1e1e1e" stroke-width="1.2"/>
<text x="141.66" y="192.45" font-size="12" text-anchor="middle" font-weight="normal" fill="#111" >1.2</text>
<line x1="171.58" y1="178.85" x2="171.58" y2="175.25" stroke="#1e1e1e" stroke-width="1.2"/>
<text x="171.58" y="192.45" font-size="12" text-anchor="middle" font-weight="normal" fill="#111" >1.4</text>
<line x1="201.5" y1="178.85" x2="201.5" y2="175.25" stroke="#1e1e1e" stroke-width="1.2"/>
<text x="201.5" y="192.45" font-size="12" text-anchor="middle" font-weight="normal" fill="#111" >1.6</text>
<line x1="231.42" y1="178.85" x2="231.42" y2="175.25" stroke="#1e1e1e" stroke-width="1.2"/>
<text x="231.42" y="192.45" font-size="12" text-anchor="middle" font-weight="normal" fill="#111" >1.8</text>
<line x1="261.34" y1="178.85" x2="261.34" y2="175.25" stroke="#1e1e1e" stroke-width="1.2"/>
<text x="261.34" y="192.45" font-size="12" text-anchor="middle" font-weight="normal" fill="#111" >2.0</text>
<line x1="66.86" y1="178.85" x2="66.86" y2="176.85" stroke="#1e1e1e" stroke-width="1.2"/>
<line x1="96.78" y1="178.85" x2="96.78" y2="176.85" stroke="#1e1e1e" stroke-width="1.2"/>
<line x1="126.7" y1="178.85" x2="126.7" y2="176.85" stroke="#1e1e1e" stroke-width="1.2"/>
<line x1="156.62" y1="178.85" x2="156.62" y2="176.85" stroke="#1e1e1e" stroke-width="1.2"/>
<line x1="186.54" y1="178.85" x2="186.54" y2="176.85" stroke="#1e1e1e" stroke-width="1.2"/>
<line x1="216.46" y1="178.85" x2="216.46" y2="176.85" stroke="#1e1e1e" stroke-width="1.2"/>
<line x1="246.38" y1="178.85" x2="246.38" y2="176.85" stroke="#1e1e1e" stroke-width="1.2"/>
<line x1="52.5" y1="155.2" x2="56.1" y2="155.2" stroke="#1e1e1e" stroke-width="1.2"/>
<text x="47.7" y="158.8" font-size="12" text-anchor="end" font-weight="normal" fill="#111" >-0.2</text>
<line x1="52.5" y1="107.8" x2="56.1" y2="107.8" stroke="#1e1e1e" stroke-width="1.2"/>
<text x="47.7" y="111.4" font-size="12" text-anchor="end" font-weight="normal" fill="#111" >0.0</text>
<line x1="52.5" y1="60.4" x2="56.1" y2="60.4" stroke="#1e1e1e" stroke-width="1.2"/>
<text x="47.7" y="64" font-size="12" text-anchor="end" font-weight="normal" fill="#111" >0.2</text>
<text x="47.7" y="16.6" font-size="12" text-anchor="end" font-weight="normal" fill="#111" >0.4</text>
<line x1="52.5" y1="131.5" x2="54.5" y2="131.5" stroke="#1e1e1e" stroke-width="1.2"/>
<line x1="52.5" y1="84.1" x2="54.5" y2="84.1" stroke="#1e1e1e" stroke-width="1.2"/>
<line x1="52.5" y1="36.7" x2="54.5" y2="36.7" stroke="#1e1e1e" stroke-width="1.2"/>
<text x="321.7" y="193" font-size="12" text-anchor="middle" font-weight="normal" fill="#111" >0.6</text>
<line x1="350.76" y1="179.4" x2="350.76" y2="175.8" stroke="#1e1e1e" stroke-width="1.2"/>
<text x="350.76" y="193" font-size="12" text-anchor="middle" font-weight="normal" fill="#111" >0.8</text>
<line x1="379.82" y1="179.4" x2="379.82" y2="175.8" stroke="#1e1e1e" stroke-width="1.2"/>
<text x="379.82" y="193" font-size="12" text-anchor="middle" font-weight="normal" fill="#111" >1.0</text>
<line x1="408.88" y1="179.4" x2="408.88" y2="175.8" stroke="#1e1e1e" stroke-width="1.2"/>
<text x="408.88" y="193" font-size="12" text-anchor="middle" font-weight="normal" fill="#111" >1.2</text>
<line x1="437.94" y1="179.4" x2="437.94" y2="175.8" stroke="#1e1e1e" stroke-width="1.2"/>
<text x="437.94" y="193" font-size="12" text-anchor="middle" font-weight="normal" fill="#111" >1.4</text>
<line x1="467" y1="179.4" x2="467" y2="175.8" stroke="#1e1e1e" stroke-width="1.2"/>
<text x="467" y="193" font-size="12" text-anchor="middle" font-weight="normal" fill="#111" >1.6</text>
<line x1="496.06" y1="179.4" x2="496.06" y2="175.8" stroke="#1e1e1e" stroke-width="1.2"/>
<text x="496.06" y="193" font-size="12" text-anchor="middle" font-weight="normal" fill="#111" >1.8</text>
<line x1="525.12" y1="179.4" x2="525.12" y2="175.8" stroke="#1e1e1e" stroke-width="1.2"/>
<text x="525.12" y="193" font-size="12" text-anchor="middle" font-weight="normal" fill="#111" >2.0</text>
<line x1="336.23" y1="179.4" x2="336.23" y2="177.4" stroke="#1e1e1e" stroke-width="1.2"/>
<line x1="365.29" y1="179.4" x2="365.29" y2="177.4" stroke="#1e1e1e" stroke-width="1.2"/>
<line x1="394.35" y1="179.4" x2="394.35" y2="177.4" stroke="#1e1e1e" stroke-width="1.2"/>
<line x1="423.41" y1="179.4" x2="423.41" y2="177.4" stroke="#1e1e1e" stroke-width="1.2"/>
<line x1="452.47" y1="179.4" x2="452.47" y2="177.4" stroke="#1e1e1e" stroke-width="1.2"/>
<line x1="481.53" y1="179.4" x2="481.53" y2="177.4" stroke="#1e1e1e" stroke-width="1.2"/>
<line x1="510.59" y1="179.4" x2="510.59" y2="177.4" stroke="#1e1e1e" stroke-width="1.2"/>
<line x1="321.9" y1="155.9" x2="325.5" y2="155.9" stroke="#1e1e1e" stroke-width="1.2"/>
<text x="317.7" y="159.5" font-size="12" text-anchor="end" font-weight="normal" fill="#111" >-0.2</text>
<line x1="321.9" y1="108.5" x2="325.5" y2="108.5" stroke="#1e1e1e" stroke-width="1.2"/>
<text x="317.7" y="112.1" font-size="12" text-anchor="end" font-weight="normal" fill="#111" >0.0</text>
<line x1="321.9" y1="61.1" x2="325.5" y2="61.1" stroke="#1e1e1e" stroke-width="1.2"/>
<text x="317.7" y="64.7" font-size="12" text-anchor="end" font-weight="normal" fill="#111" >0.2</text>
<text x="317.7" y="17.3" font-size="12" text-anchor="end" font-weight="normal" fill="#111" >0.4</text>
<line x1="321.9" y1="132.2" x2="323.9" y2="132.2" stroke="#1e1e1e" stroke-width="1.2"/>
<line x1="321.9" y1="84.8" x2="323.9" y2="84.8" stroke="#1e1e1e" stroke-width="1.2"/>
<line x1="321.9" y1="37.4" x2="323.9" y2="37.4" stroke="#1e1e1e" stroke-width="1.2"/>
<line x1="67.2" y1="306" x2="67.2" y2="302.4" stroke="#1e1e1e" stroke-width="1.2"/>
<text x="67.2" y="319.4" font-size="12" text-anchor="middle" font-weight="normal" fill="#111" >0</text>
<line x1="126.5" y1="306" x2="126.5" y2="302.4" stroke="#1e1e1e" stroke-width="1.2"/>
<text x="126.5" y="319.4" font-size="12" text-anchor="middle" font-weight="normal" fill="#111" >20</text>
<line x1="185.8" y1="306" x2="185.8" y2="302.4" stroke="#1e1e1e" stroke-width="1.2"/>
<text x="185.8" y="319.4" font-size="12" text-anchor="middle" font-weight="normal" fill="#111" >40</text>
<line x1="245.1" y1="306" x2="245.1" y2="302.4" stroke="#1e1e1e" stroke-width="1.2"/>
<text x="245.1" y="319.4" font-size="12" text-anchor="middle" font-weight="normal" fill="#111" >60</text>
<line x1="96.85" y1="306" x2="96.85" y2="304" stroke="#1e1e1e" stroke-width="1.2"/>
<line x1="156.15" y1="306" x2="156.15" y2="304" stroke="#1e1e1e" stroke-width="1.2"/>
<line x1="215.45" y1="306" x2="215.45" y2="304" stroke="#1e1e1e" stroke-width="1.2"/>
<line x1="67.2" y1="386.6" x2="67.2" y2="383" stroke="#1e1e1e" stroke-width="1.2"/>
<text x="67.2" y="400" font-size="12" text-anchor="middle" font-weight="normal" fill="#111" >0</text>
<line x1="126.5" y1="386.6" x2="126.5" y2="383" stroke="#1e1e1e" stroke-width="1.2"/>
<text x="126.5" y="400" font-size="12" text-anchor="middle" font-weight="normal" fill="#111" >20</text>
<line x1="185.8" y1="386.6" x2="185.8" y2="383" stroke="#1e1e1e" stroke-width="1.2"/>
<text x="185.8" y="400" font-size="12" text-anchor="middle" font-weight="normal" fill="#111" >40</text>
<line x1="245.1" y1="386.6" x2="245.1" y2="383" stroke="#1e1e1e" stroke-width="1.2"/>
<text x="245.1" y="400" font-size="12" text-anchor="middle" font-weight="normal" fill="#111" >60</text>
<line x1="96.85" y1="386.6" x2="96.85" y2="384.6" stroke="#1e1e1e" stroke-width="1.2"/>
<line x1="156.15" y1="386.6" x2="156.15" y2="384.6" stroke="#1e1e1e" stroke-width="1.2"/>
<line x1="215.45" y1="386.6" x2="215.45" y2="384.6" stroke="#1e1e1e" stroke-width="1.2"/>
<line x1="52.8" y1="283.06" x2="56.4" y2="283.06" stroke="#1e1e1e" stroke-width="1.2"/>
<text x="47.9" y="286.66" font-size="12" text-anchor="end" font-weight="normal" fill="#111" >1.2</text>
<line x1="52.8" y1="252.98" x2="56.4" y2="252.98" stroke="#1e1e1e" stroke-width="1.2"/>
<text x="47.9" y="256.58" font-size="12" text-anchor="end" font-weight="normal" fill="#111" >1.6</text>
<text x="47.9" y="226.5" font-size="12" text-anchor="end" font-weight="normal" fill="#111" >2.0</text>
<line x1="52.8" y1="298.1" x2="54.8" y2="298.1" stroke="#1e1e1e" stroke-width="1.2"/>
<line x1="52.8" y1="268.02" x2="54.8" y2="268.02" stroke="#1e1e1e" stroke-width="1.2"/>
<line x1="52.8" y1="366.24" x2="56.4" y2="366.24" stroke="#1e1e1e" stroke-width="1.2"/>
<text x="47.9" y="369.84" font-size="12" text-anchor="end" font-weight="normal" fill="#111" >1.2</text>
<line x1="52.8" y1="339.32" x2="56.4" y2="339.32" stroke="#1e1e1e" stroke-width="1.2"/>
<text x="47.9" y="342.92" font-size="12" text-anchor="end" font-weight="normal" fill="#111" >1.6</text>
<line x1="52.8" y1="312.4" x2="56.4" y2="312.4" stroke="#1e1e1e" stroke-width="1.2"/>
<text x="47.9" y="316" font-size="12" text-anchor="end" font-weight="normal" fill="#111" >2.0</text>
<line x1="52.8" y1="379.7" x2="54.8" y2="379.7" stroke="#1e1e1e" stroke-width="1.2"/>
<line x1="52.8" y1="352.78" x2="54.8" y2="352.78" stroke="#1e1e1e" stroke-width="1.2"/>
<line x1="52.8" y1="325.86" x2="54.8" y2="325.86" stroke="#1e1e1e" stroke-width="1.2"/>
<line x1="341.7" y1="383.8" x2="341.7" y2="380.2" stroke="#1e1e1e" stroke-width="1.2"/>
<text x="341.7" y="396.8" font-size="12" text-anchor="middle" font-weight="normal" fill="#111" >0</text>
<line x1="381.24" y1="383.8" x2="381.24" y2="380.2" stroke="#1e1e1e" stroke-width="1.2"/>
<text x="381.24" y="396.8" font-size="12" text-anchor="middle" font-weight="normal" fill="#111" >10</text>
<line x1="420.78" y1="383.8" x2="420.78" y2="380.2" stroke="#1e1e1e" stroke-width="1.2"/>
<text x="420.78" y="396.8" font-size="12" text-anchor="middle" font-weight="normal" fill="#111" >20</text>
<line x1="460.32" y1="383.8" x2="460.32" y2="380.2" stroke="#1e1e1e" stroke-width="1.2"/>
<text x="460.32" y="396.8" font-size="12" text-anchor="middle" font-weight="normal" fill="#111" >30</text>
<line x1="499.86" y1="383.8" x2="499.86" y2="380.2" stroke="#1e1e1e" stroke-width="1.2"/>
<text x="499.86" y="396.8" font-size="12" text-anchor="middle" font-weight="normal" fill="#111" >40</text>
<text x="539.4" y="396.8" font-size="12" text-anchor="middle" font-weight="normal" fill="#111" >50</text>
<line x1="361.47" y1="383.8" x2="361.47" y2="381.8" stroke="#1e1e1e" stroke-width="1.2"/>
<line x1="401.01" y1="383.8" x2="401.01" y2="381.8" stroke="#1e1e1e" stroke-width="1.2"/>
<line x1="440.55" y1="383.8" x2="440.55" y2="381.8" stroke="#1e1e1e" stroke-width="1.2"/>
<line x1="480.09" y1="383.8" x2="480.09" y2="381.8" stroke="#1e1e1e" stroke-width="1.2"/>
<line x1="519.63" y1="383.8" x2="519.63" y2="381.8" stroke="#1e1e1e" stroke-width="1.2"/>
<text x="317.7" y="387.4" font-size="12" text-anchor="end" font-weight="normal" fill="#111" >0.8</text>
<line x1="322.1" y1="330.2" x2="325.7" y2="330.2" stroke="#1e1e1e" stroke-width="1.2"/>
<text x="317.7" y="333.8" font-size="12" text-anchor="end" font-weight="normal" fill="#111" >1.2</text>
<text x="317.7" y="280.2" font-size="12" text-anchor="end" font-weight="normal" fill="#111" >1.6</text>
<text x="317.7" y="226.6" font-size="12" text-anchor="end" font-weight="normal" fill="#111" >2.0</text>
<line x1="322.1" y1="357" x2="324.1" y2="357" stroke="#1e1e1e" stroke-width="1.2"/>
<line x1="322.1" y1="303.4" x2="324.1" y2="303.4" stroke="#1e1e1e" stroke-width="1.2"/>
<line x1="322.1" y1="249.8" x2="324.1" y2="249.8" stroke="#1e1e1e" stroke-width="1.2"/>
<text x="0" y="0" font-size="16" text-anchor="start" font-weight="bold" fill="#111"  transform="translate(60.5,30.4) scale(1,1.05)">(a)</text>
<text x="0" y="0" font-size="16" text-anchor="start" font-weight="bold" fill="#111"  transform="translate(332.6,34) scale(1,1.05)">(b)</text>
<text x="0" y="0" font-size="16" text-anchor="start" font-weight="bold" fill="#111"  transform="translate(57.2,240.3) scale(1,1.05)">(c)</text>
<text x="0" y="0" font-size="16" text-anchor="start" font-weight="bold" fill="#111"  transform="translate(328.5,240.2) scale(1,1.05)">(d)</text>
<text x="0" y="0" font-size="12.9" text-anchor="start" font-weight="normal" fill="#111"  transform="translate(113.8,25.7) scale(1,1.06)">Bare Zn</text>
<text x="0" y="0" font-size="13.3" text-anchor="start" font-weight="normal" fill="#111"  transform="translate(400.9,30.7) scale(1,1.04)">HMoO<tspan font-size="10" dy="4">x</tspan><tspan dy="-4">-Zn</tspan></text>
<text x="0" y="0" font-size="12.9" text-anchor="start" font-weight="normal" fill="#111"  transform="translate(213.8,240.9) scale(1,1.06)">Bare Zn</text>
<text x="0" y="0" font-size="13.45" text-anchor="start" font-weight="normal" fill="#111"  transform="translate(161.3,357.2) scale(1,1.04)">HMoO<tspan font-size="10" dy="4">x</tspan><tspan dy="-4">-Zn</tspan></text>
<line x1="220" y1="25.4" x2="240.5" y2="25.4" stroke="#101010" stroke-width="1.6"/>
<text x="242.8" y="28.4" font-size="9.6" text-anchor="start" font-weight="normal" fill="#111" >1st</text>
<line x1="220" y1="37.85" x2="240.5" y2="37.85" stroke="#d22c2c" stroke-width="1.6"/>
<text x="242.8" y="40.85" font-size="9.6" text-anchor="start" font-weight="normal" fill="#111" >2nd</text>
<line x1="220" y1="50.3" x2="240.5" y2="50.3" stroke="#1616cc" stroke-width="1.6"/>
<text x="242.8" y="53.3" font-size="9.6" text-anchor="start" font-weight="normal" fill="#111" >3rd</text>
<line x1="494" y1="25.3" x2="513" y2="25.3" stroke="#101010" stroke-width="1.6"/>
<text x="515.6" y="28.3" font-size="9.2" text-anchor="start" font-weight="normal" fill="#111" >1st</text>
<line x1="494" y1="36.85" x2="513" y2="36.85" stroke="#d22c2c" stroke-width="1.6"/>
<text x="515.6" y="39.85" font-size="9.2" text-anchor="start" font-weight="normal" fill="#111" >2nd</text>
<line x1="494" y1="48.4" x2="513" y2="48.4" stroke="#1616cc" stroke-width="1.6"/>
<text x="515.6" y="51.4" font-size="9.2" text-anchor="start" font-weight="normal" fill="#111" >3rd</text>
<line x1="227.4" y1="335.2" x2="252.1" y2="335.2" stroke="#101010" stroke-width="1.6"/>
<text x="255" y="338.6" font-size="9.8" text-anchor="start" font-weight="normal" fill="#111" >1st</text>
<line x1="227.4" y1="348.2" x2="252.1" y2="348.2" stroke="#d22c2c" stroke-width="1.6"/>
<text x="255" y="351.6" font-size="9.8" text-anchor="start" font-weight="normal" fill="#111" >2nd</text>
<line x1="227.4" y1="361.2" x2="252.1" y2="361.2" stroke="#1616cc" stroke-width="1.6"/>
<text x="255" y="364.6" font-size="9.8" text-anchor="start" font-weight="normal" fill="#111" >3rd</text>
<line x1="464" y1="304.2" x2="483.1" y2="304.2" stroke="#101010" stroke-width="1.6"/>
<line x1="464" y1="317" x2="483.1" y2="317" stroke="#d22c2c" stroke-width="1.6"/>
<text x="485.6" y="306.8" font-size="9.6" text-anchor="start" font-weight="normal" fill="#111" >Bare Zn</text>
<text x="485.6" y="319.5" font-size="10.1" text-anchor="start" font-weight="normal" fill="#111" >HMoO<tspan font-size="7.6" dy="3">x</tspan><tspan dy="-3">-Zn</tspan></text>
<text x="0" y="0" font-size="13.2" text-anchor="start" font-weight="normal" fill="#111"  transform="translate(139,62.5) scale(1,1.08)">1.61 V</text>
<text x="0" y="0" font-size="13.2" text-anchor="start" font-weight="normal" fill="#111"  transform="translate(75.1,167) scale(1,1.08)">1.19 V</text>
<text x="0" y="0" font-size="13.2" text-anchor="start" font-weight="normal" fill="#111"  transform="translate(188,157.2) scale(1,1.08)">1.40 V</text>
<text x="0" y="0" font-size="13.2" text-anchor="start" font-weight="normal" fill="#111"  transform="translate(402.3,57.2) scale(1,1.08)">1.56 V</text>
<text x="0" y="0" font-size="13.2" text-anchor="start" font-weight="normal" fill="#111"  transform="translate(343.4,166.9) scale(1,1.08)">1.15 V</text>
<text x="0" y="0" font-size="13.2" text-anchor="start" font-weight="normal" fill="#111"  transform="translate(467.1,156.8) scale(1,1.08)">1.38 V</text>
<line x1="198.7" y1="46.8" x2="185" y2="53.8" stroke="#2a2a2a" stroke-width="1"/>
<polygon points="178.8,56.7 183.2,50.5 186.7,56.4" fill="#111" stroke="#111" stroke-width="0.6" stroke-linejoin="round"/>
<line x1="134.7" y1="148.4" x2="118" y2="154.8" stroke="#2a2a2a" stroke-width="1"/>
<polygon points="112.4,157.4 117,152.1 119.8,157.6" fill="#111" stroke="#111" stroke-width="0.6" stroke-linejoin="round"/>
<line x1="170" y1="144.4" x2="181" y2="148.6" stroke="#2a2a2a" stroke-width="1"/>
<polygon points="181.4,145 179,151.6 186.8,150.5" fill="#111" stroke="#111" stroke-width="0.6" stroke-linejoin="round"/>
<line x1="464.8" y1="62.2" x2="451.5" y2="56.6" stroke="#2a2a2a" stroke-width="1"/>
<polygon points="445.6,54.1 453.3,53.7 450.2,59.8" fill="#111" stroke="#111" stroke-width="0.6" stroke-linejoin="round"/>
<line x1="406.8" y1="148" x2="392.8" y2="153.9" stroke="#2a2a2a" stroke-width="1"/>
<polygon points="386.9,156.1 391.7,150.9 394.8,156.6" fill="#111" stroke="#111" stroke-width="0.6" stroke-linejoin="round"/>
<line x1="439.6" y1="144.8" x2="454" y2="148.4" stroke="#2a2a2a" stroke-width="1"/>
<polygon points="453.5,145 452.2,151.4 459.7,149.6" fill="#111" stroke="#111" stroke-width="0.6" stroke-linejoin="round"/>
<text x="0" y="0" font-size="12.7" text-anchor="middle" font-weight="normal" fill="#111" transform="translate(22,103.4) rotate(-90)">Current/mA</text>
<text x="0" y="0" font-size="12.7" text-anchor="middle" font-weight="normal" fill="#111" transform="translate(292,104) rotate(-90)">Current/mA</text>
<text x="164" y="209.1" font-size="12.6" text-anchor="middle" font-weight="normal" fill="#111" >Potential/V</text>
<text x="430.5" y="209.5" font-size="12.6" text-anchor="middle" font-weight="normal" fill="#111" >Potential/V</text>
<text x="0" y="0" font-size="12.7" text-anchor="middle" font-weight="normal" fill="#111" transform="translate(20.2,305.3) rotate(-90)">Voltage/V vs. Zn<tspan font-size="11.2" dy="-4.8">2+</tspan><tspan dy="4.8">/Zn</tspan></text>
<text x="0" y="0" font-size="12.7" text-anchor="middle" font-weight="normal" fill="#111" transform="translate(291.6,305.9) rotate(-90)">Voltage/V vs. Zn<tspan font-size="11.2" dy="-4.8">2+</tspan><tspan dy="4.8">/Zn</tspan></text>
<text x="156.3" y="414" font-size="12.6" text-anchor="middle" font-weight="normal" fill="#111" >Specific Capacity/mAh&#183;g<tspan font-size="10" dy="-4.6">-1</tspan></text>
<text x="430.5" y="414" font-size="12.6" text-anchor="middle" font-weight="normal" fill="#111" >Specific Capacity/mAh&#183;g<tspan font-size="10" dy="-4.6">-1</tspan></text>
</svg>
</body></html>
